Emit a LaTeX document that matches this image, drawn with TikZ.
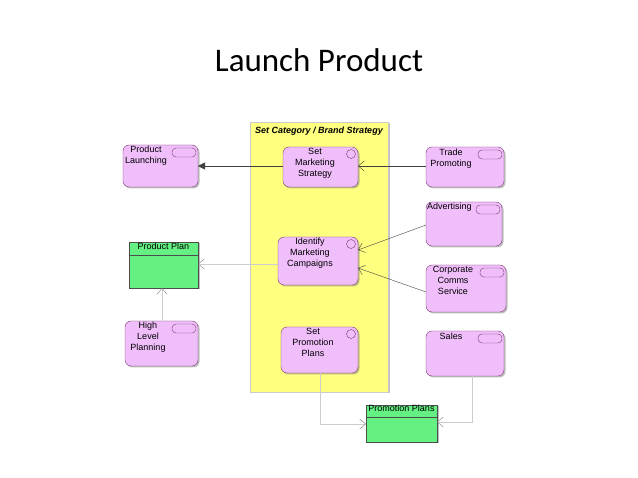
\documentclass[tikz,border=0pt]{standalone}
\usepackage{fontspec}
\setmainfont{Liberation Sans}
\newfontfamily\titlefont{Carlito}
\usetikzlibrary{calc,shadows,arrows.meta}
\definecolor{fnpink}{RGB}{240,190,250}
\definecolor{fnedge}{RGB}{120,60,110}
\definecolor{grpyellow}{RGB}{255,255,128}
\definecolor{datagreen}{RGB}{100,240,130}
\begin{document}
\begin{tikzpicture}[%
x=1pt, y=-1pt,
box/.style={draw=fnedge, fill=fnpink, rounded corners=6pt, drop shadow={shadow xshift=1.5pt,shadow yshift=-1.5pt,opacity=0.5}},
pill/.style={draw=fnedge, rounded corners=4pt},
datbox/.style={draw=black!70, fill=datagreen, drop shadow={shadow xshift=1.5pt,shadow yshift=-1.5pt,opacity=0.5}},
txt/.style={font=\fontsize{9}{11}\selectfont, align=center, anchor=north, inner sep=0pt},
flow/.style={draw=black!75, -{Straight Barb[length=6pt,width=10pt]}},
trig/.style={draw=gray!40, -{Straight Barb[length=6pt,width=10pt,color=gray]}},
]
\useasboundingbox (0,0) rectangle (638,478);
%% title;
\node (title) at (319,60) {\titlefont\fontsize{33}{36}\selectfont Launch Product};
%% group;
\draw [draw=black!20, fill=grpyellow, drop shadow={shadow xshift=1.5pt,shadow yshift=-1.5pt,opacity=0.5}] (250,122) rectangle (388,392);
\node [font=\fontsize{9}{11}\selectfont\bfseries\itshape, anchor=north] (grp) at (319,123) {Set Category / Brand Strategy};
%% actors;
\path [box] (123,145) rectangle (198,187);
\node [txt] at (146,146) {Product\\Launching};
\draw [pill] (172,148) rectangle (196,157);
\coordinate (launch) at (198,166);
\path [box] (426,147) rectangle (504,187);
\node [txt] at (451,149) {Trade\\Promoting};
\draw [pill] (478,150) rectangle (502,159);
\coordinate (trade) at (426,166);
\path [box] (426,202) rectangle (502,246);
\node [txt, anchor=north west] at (427,203) {Advertising};
\draw [pill] (476,205) rectangle (500,214);
\coordinate (adv) at (426,225);
\path [box] (426,265) rectangle (506,312);
\node [txt] at (453,266) {Corporate\\Comms\\Service};
\draw [pill] (480,268) rectangle (504,277);
\coordinate (corp) at (426,292);
\path [box] (125,321) rectangle (198,366);
\node [txt] at (148,322) {High\\Level\\Planning};
\draw [pill] (172,324) rectangle (196,333);
\coordinate (high) at (162,321);
\path [box] (426,331) rectangle (504,376);
\node [txt] at (451,333) {Sales};
\draw [pill] (478,334) rectangle (502,343);
\coordinate (sales) at (472,376);
%% functions;
\path [box] (283,147) rectangle (358,187);
\node [txt] at (315,148) {Set\\Marketing\\Strategy};
\draw [fnedge] (351,154) circle (4.5pt);
\coordinate (smsW) at (283,166);
\coordinate (smsE) at (358,166);
\path [box] (278,237) rectangle (358,285);
\node [txt] at (310,238) {Identify\\Marketing\\Campaigns};
\draw [fnedge] (351,244) circle (4.5pt);
\coordinate (idW) at (278,264);
\coordinate (idE1) at (358,250);
\coordinate (idE2) at (358,268);
\path [box] (281,327) rectangle (358,373);
\node [txt] at (313,328) {Set\\Promotion\\Plans};
\draw [fnedge] (351,334) circle (4.5pt);
\coordinate (spp) at (320,373);
%% data;
\path [datbox] (129,242) rectangle (198,288);
\draw [black!70] (129,255) -- (198,255);
\node [txt] at (163.5,243) {Product Plan};
\coordinate (planE) at (198,264);
\coordinate (planS) at (162,288);
\path [datbox] (366,405) rectangle (437,442);
\draw [black!70] (366,417) -- (437,417);
\node [txt] at (401.5,405) {Promotion Plans};
\coordinate (promW) at (366,424);
\coordinate (promE) at (437,422);
%% flows;
\draw [draw=black!75, -{Triangle[length=7pt,width=7pt]}] (smsW) -- (launch);
\draw [flow] (trade) -- (smsE);
\draw [flow] (adv) -- (idE1);
\draw [flow] (corp) -- (idE2);
\draw [trig] (idW) -- (planE);
\draw [trig] (high) -- (planS);
\draw [trig] (spp) |- (promW);
\draw [trig] (sales) |- (promE);
\end{tikzpicture}
\end{document}
